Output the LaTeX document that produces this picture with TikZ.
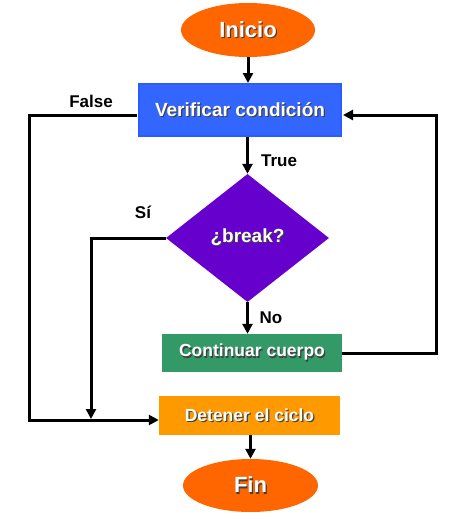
\documentclass[tikz,border=0pt]{standalone}
\usepackage{fontspec}
\setmainfont{Liberation Sans}
\usetikzlibrary{shapes.geometric,arrows.meta,calc}
\definecolor{cOrange}{HTML}{FF6600}
\definecolor{cBlue}{HTML}{3366FF}
\definecolor{cBlueEdge}{HTML}{2B5CFF}
\definecolor{cPurple}{HTML}{6600CC}
\definecolor{cGreen}{HTML}{339966}
\definecolor{cAmber}{HTML}{FF9900}
\definecolor{cShadow}{HTML}{404040}
\newcommand\shtxt[1]{\rlap{\hspace{1.2pt}\raisebox{-1.2pt}{\textcolor{cShadow}{#1}}}\textcolor{white}{#1}}
\tikzset{
  terminal/.style={ellipse, fill=cOrange, inner sep=0pt, font=\bfseries\fontsize{22}{24}\selectfont},
  procbox/.style={rectangle, inner sep=0pt, font=\bfseries\fontsize{17.5}{20}\selectfont},
  lbl/.style={font=\bfseries\fontsize{17}{19}\selectfont, text=black, inner sep=0pt},
  arr/.style={line width=3pt, -{Triangle[length=10pt,width=10pt]}},
  ln/.style={line width=3pt}
}
\begin{document}
\begin{tikzpicture}[x=1pt,y=-1pt]
\useasboundingbox (0,0) rectangle (474,519);
\node[terminal, minimum width=134pt, minimum height=54pt] (ini) at (248,30) {\shtxt{Inicio}};
\node[procbox, fill=cBlue, draw=cBlueEdge, line width=2pt, minimum width=202pt, minimum height=52pt, font=\bfseries\fontsize{19}{21}\selectfont] (ver) at (240,110) {\shtxt{Verificar condición}};
\node[diamond, fill=cPurple, inner sep=0pt, minimum width=163pt, minimum height=128pt, font=\bfseries\fontsize{19}{21}\selectfont] (dia) at (247.5,238) {\shtxt{¿break?}};
\node[procbox, fill=cGreen, minimum width=180pt, minimum height=38pt] (cont) at (252,353) {\shtxt{Continuar cuerpo}};
\node[procbox, fill=cAmber, minimum width=181pt, minimum height=39pt] (det) at (249.5,415.5) {\shtxt{Detener el ciclo}};
\node[terminal, minimum width=135pt, minimum height=53pt] (fin) at (250.5,485.5) {\shtxt{Fin}};
% labels
\node[lbl] (lfalse) at (91,101) {False};
\node[lbl] (ltrue) at (279,161) {True};
\node[lbl] (lsi) at (143,212) {Sí};
\node[lbl] (lno) at (271,318) {No};
% helper coordinates
\coordinate (verL) at ($(ver.west)+(-1,5)$);
\coordinate (verR) at ($(ver.east)+(1,5)$);
\coordinate (leftX) at (29,0);
\coordinate (siX) at (91,0);
\coordinate (rightX) at (436,0);
\coordinate (detL) at ($(det.west)+(0,4.5)$);
% connectors
\draw[arr] (ini.south -| 248,0) -- (248,0 |- ver.north);
\draw[arr] (dia.north |- ver.south) -- (dia.north);
\draw[arr] (dia.south) -- (dia.south |- cont.north);
\draw[arr] (det.south -| fin.north) -- (fin.north);
\draw[arr] (verL) -| (leftX |- detL) -- (detL);
\draw[arr] (dia.west) -| ($(siX |- detL)+(0,-1)$);
\draw[arr] (cont.east) -| (rightX |- verR) -- (verR);
\end{tikzpicture}
\end{document}
